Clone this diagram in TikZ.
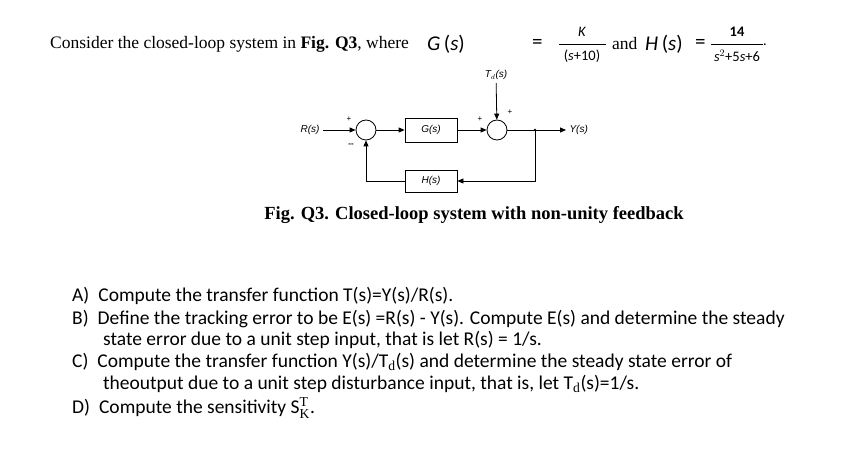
\documentclass[tikz,border=0pt]{standalone}
\usepackage{fontspec}
\setmainfont{Liberation Serif}
\newfontfamily\qfont{Carlito}
\newfontfamily\dfont{Liberation Sans}
\usetikzlibrary{arrows.meta}
\begin{document}
\begin{tikzpicture}[x=1pt,y=-1pt,
  blk/.style={draw,thick,minimum width=52pt,minimum height=24pt,inner sep=0pt,font=\dfont\fontsize{10}{11}\selectfont\itshape},
  sum/.style={draw,thick,circle,minimum size=20pt,inner sep=0pt},
  lbl/.style={font=\dfont\fontsize{10}{11}\selectfont\itshape},
  sg/.style={font=\dfont\fontsize{8}{8}\selectfont},
  ar/.style={thick,-{Triangle[length=6pt,width=5pt]}},
  fr/.style={font=\qfont\fontsize{14.5}{15}\selectfont,inner sep=1pt},
  mt/.style={anchor=west,font=\qfont\fontsize{21}{22}\selectfont,inner sep=0},
  ql/.style={anchor=west,font=\qfont\fontsize{19.5}{22}\selectfont,inner sep=0}]
\useasboundingbox (0,0) rectangle (865,465);
% title
\node[anchor=west,font=\fontsize{17.5}{22}\selectfont,inner sep=0] (title) at (50,44)
 {Consider the closed-loop system in \textbf{Fig. Q3}, where};
\node[mt] (gs) at (427,44) {\textit{G}\,(\textit{s})};
\node[mt] (ge) at (532,44) {=};
\node[fr] (gn) at (582,32) {\textit{K}};
\node[fr] (gd) at (582,56) {(\textit{s}+10)};
\draw (559,44) -- (606,44);
\node[anchor=west,font=\fontsize{17.5}{22}\selectfont,inner sep=0] (and) at (612,44) {and};
\node[mt] (hs) at (645,44) {\textit{H}\,(\textit{s})};
\node[mt] (he) at (695,44) {=};
\node[fr] (hn) at (737,32) {\textbf{14}};
\node[fr] (hd) at (737,56) {\textit{s}$^{2}$+5\textit{s}+6};
\draw (711,44) -- (763,44);
\node[fr,anchor=west] (dot) at (762,45) {.};
% diagram
\node[lbl,anchor=east] (R) at (323,130) {R(s)};
\node[sum] (s1) at (366,130) {};
\node[blk] (G) at (431,130) {G(s)};
\node[sum] (s2) at (497,130) {};
\coordinate (br) at (535,130);
\node[lbl,anchor=west] (Y) at (566,130) {Y(s)};
\node[lbl] (Td) at (496,75) {T$_d$(s)};
\node[blk,minimum height=22pt] (H) at (431,181) {H(s)};
\draw[ar] (R) -- (s1);
\draw[ar] (s1) -- (G);
\draw[ar] (G) -- (s2);
\draw[ar] (s2) -- (Y);
\draw[ar] (Td) -- (s2);
\draw[ar] (br) |- (H);
\draw[ar] (H) -| (s1);
\fill (br) circle (1.3pt);
\node[sg] (p1) at (349,119) {+};
\node[sg] (m1) at (351,145) {\textbf{--}};
\node[sg] (p2) at (480,119) {+};
\node[sg] (p3) at (510,112) {+};
\node[font=\bfseries\fontsize{18.5}{22}\selectfont] (cap) at (474,215) {Fig. Q3. Closed-loop system with non-unity feedback};
% questions
\node[ql] (qa) at (72,296) {A)\hspace{9pt}Compute the transfer function T(s)=Y(s)/R(s).};
\node[ql] (qb) at (72,319) {B)\hspace{9pt}Define the tracking error to be E(s) =R(s) - Y(s). Compute E(s) and determine the steady};
\node[ql] (qb2) at (103,340) {state error due to a unit step input, that is let R(s) = 1/s.};
\node[ql] (qc) at (72,362) {C)\hspace{9pt}Compute the transfer function Y(s)/T$_\mathrm{d}$(s) and determine the steady state error of};
\node[ql] (qc2) at (103,384) {theoutput due to a unit step disturbance input, that is, let T$_\mathrm{d}$(s)=1/s.};
\node[ql] (qd) at (72,408) {D)\hspace{9pt}Compute the sensitivity S$^{\mathrm{T}}_{\mathrm{K}}$.};
\end{tikzpicture}
\end{document}
